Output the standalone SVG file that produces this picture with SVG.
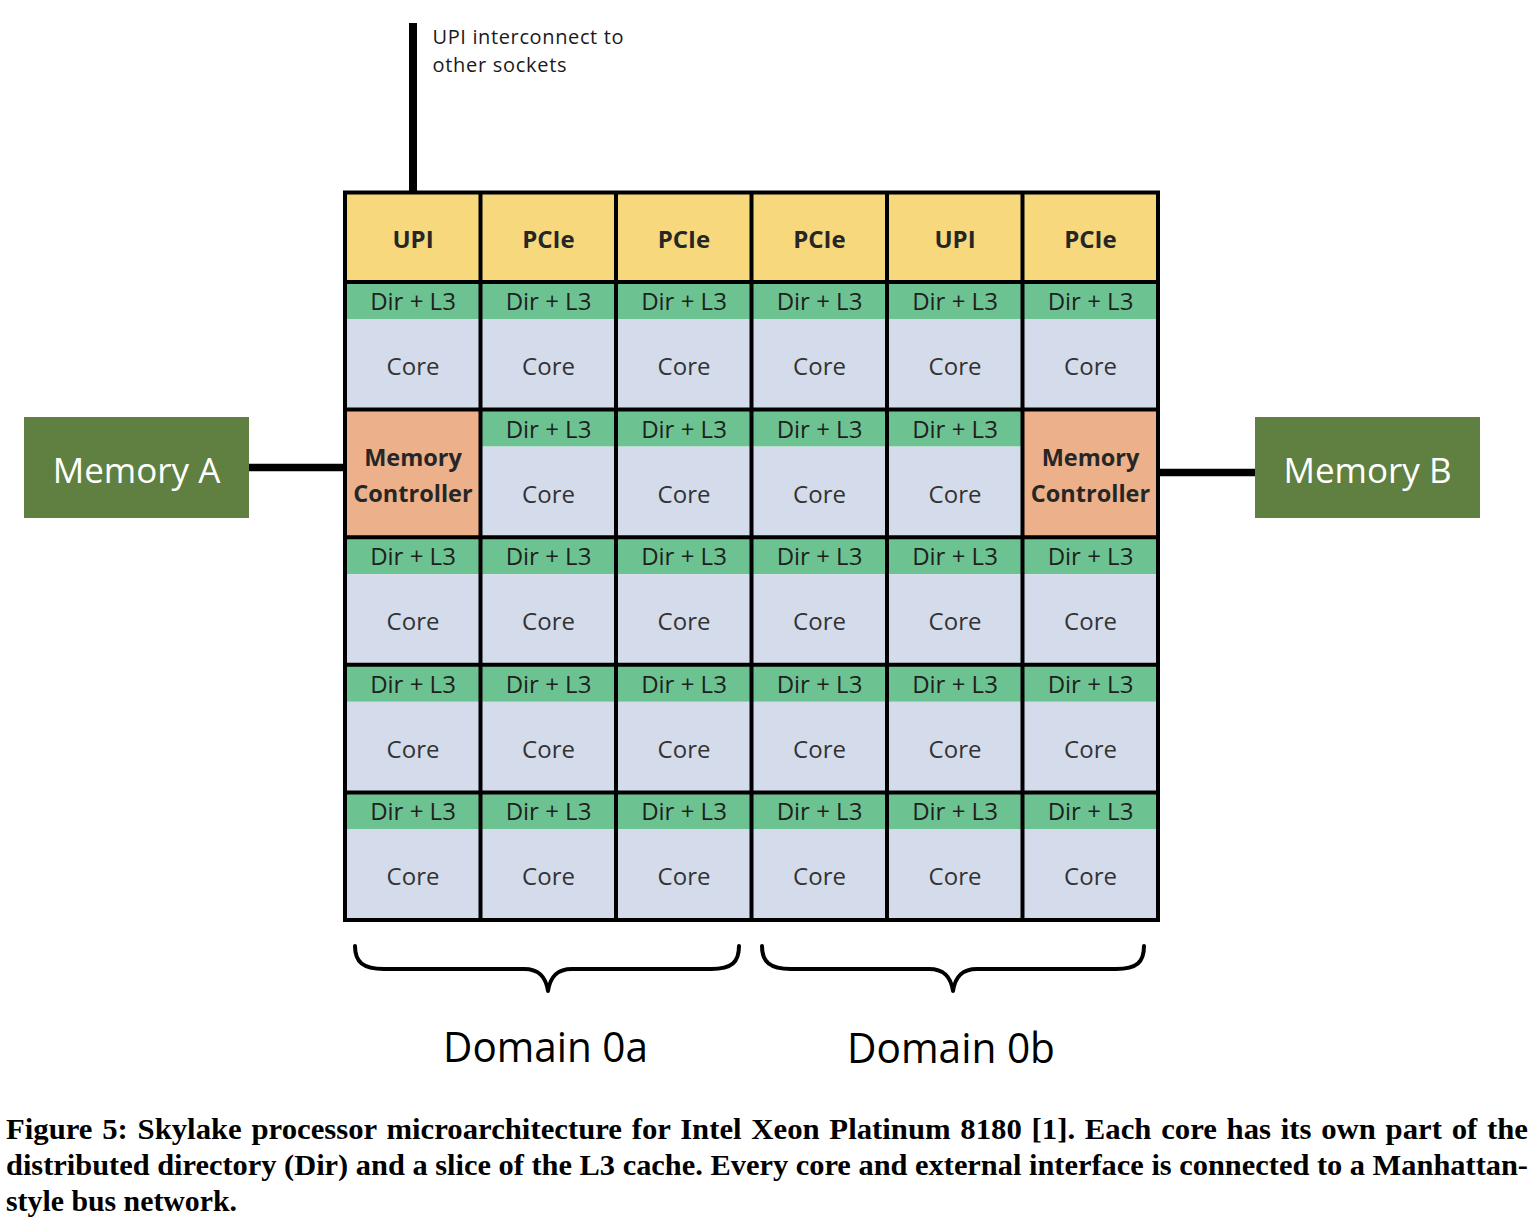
<svg xmlns="http://www.w3.org/2000/svg" width="1536" height="1228" viewBox="0 0 1536 1228">
<style>
.bg{fill:#ffffff}
.yel{fill:#F7D87C}
.grn{fill:#6CC391}
.core{fill:#D4DCEC}
.mc{fill:#ECB18A}
.mem{fill:#5F8040}
.t{font-family:"Open Sans","Liberation Sans",sans-serif;text-anchor:middle}
.dir{font-size:24px;fill:#1f1f1f}
.cr{font-size:24px;fill:#333333}
.hd{font-size:24px;font-weight:bold;fill:#262626}
.mct{font-size:23.5px;font-weight:bold;fill:#262626}
.memt{font-size:35px;fill:#ffffff}
.dom{font-size:42px;fill:#000000}
.note{font-family:"Open Sans","Liberation Sans",sans-serif;font-size:20px;fill:#1a1a1a}
.cap{font-family:"Liberation Serif","Times New Roman",serif;font-size:30px;font-weight:bold;fill:#000000}
.ln{stroke:#000000;fill:none}
</style>
<rect class="bg" x="0" y="0" width="1536" height="1228"/>

<!-- top interface row -->
<g id="top-row">
<rect class="yel" x="345" y="192.5" width="813" height="89.5"/>
<text class="t hd" x="413" y="247.5">UPI</text>
<text class="t hd" x="548.5" y="247.5">PCIe</text>
<text class="t hd" x="684" y="247.5">PCIe</text>
<text class="t hd" x="819.5" y="247.5">PCIe</text>
<text class="t hd" x="955" y="247.5">UPI</text>
<text class="t hd" x="1090.5" y="247.5">PCIe</text>
</g>

<!-- tiles: row 0 (top 282) -->
<g id="tile-r0c0"><rect class="grn" x="345" y="282" width="135.5" height="37"/><rect class="core" x="345" y="319" width="135.5" height="90.6"/><text class="t dir" x="413" y="310">Dir + L3</text><text class="t cr" x="413" y="375">Core</text></g>
<g id="tile-r0c1"><rect class="grn" x="480.5" y="282" width="135.5" height="37"/><rect class="core" x="480.5" y="319" width="135.5" height="90.6"/><text class="t dir" x="548.5" y="310">Dir + L3</text><text class="t cr" x="548.5" y="375">Core</text></g>
<g id="tile-r0c2"><rect class="grn" x="616" y="282" width="135.5" height="37"/><rect class="core" x="616" y="319" width="135.5" height="90.6"/><text class="t dir" x="684" y="310">Dir + L3</text><text class="t cr" x="684" y="375">Core</text></g>
<g id="tile-r0c3"><rect class="grn" x="751.5" y="282" width="135.5" height="37"/><rect class="core" x="751.5" y="319" width="135.5" height="90.6"/><text class="t dir" x="819.5" y="310">Dir + L3</text><text class="t cr" x="819.5" y="375">Core</text></g>
<g id="tile-r0c4"><rect class="grn" x="887" y="282" width="135.5" height="37"/><rect class="core" x="887" y="319" width="135.5" height="90.6"/><text class="t dir" x="955" y="310">Dir + L3</text><text class="t cr" x="955" y="375">Core</text></g>
<g id="tile-r0c5"><rect class="grn" x="1022.5" y="282" width="135.5" height="37"/><rect class="core" x="1022.5" y="319" width="135.5" height="90.6"/><text class="t dir" x="1090.5" y="310">Dir + L3</text><text class="t cr" x="1090.5" y="375">Core</text></g>

<!-- row 1 (top 409.6) -->
<g id="memctrl-a"><rect class="mc" x="345" y="409.6" width="135.5" height="127.6"/><text class="t mct" x="413" y="466">Memory</text><text class="t mct" x="413" y="502">Controller</text></g>
<g id="tile-r1c1"><rect class="grn" x="480.5" y="409.6" width="135.5" height="37"/><rect class="core" x="480.5" y="446.6" width="135.5" height="90.6"/><text class="t dir" x="548.5" y="438">Dir + L3</text><text class="t cr" x="548.5" y="502.6">Core</text></g>
<g id="tile-r1c2"><rect class="grn" x="616" y="409.6" width="135.5" height="37"/><rect class="core" x="616" y="446.6" width="135.5" height="90.6"/><text class="t dir" x="684" y="438">Dir + L3</text><text class="t cr" x="684" y="502.6">Core</text></g>
<g id="tile-r1c3"><rect class="grn" x="751.5" y="409.6" width="135.5" height="37"/><rect class="core" x="751.5" y="446.6" width="135.5" height="90.6"/><text class="t dir" x="819.5" y="438">Dir + L3</text><text class="t cr" x="819.5" y="502.6">Core</text></g>
<g id="tile-r1c4"><rect class="grn" x="887" y="409.6" width="135.5" height="37"/><rect class="core" x="887" y="446.6" width="135.5" height="90.6"/><text class="t dir" x="955" y="438">Dir + L3</text><text class="t cr" x="955" y="502.6">Core</text></g>
<g id="memctrl-b"><rect class="mc" x="1022.5" y="409.6" width="135.5" height="127.6"/><text class="t mct" x="1090.5" y="466">Memory</text><text class="t mct" x="1090.5" y="502">Controller</text></g>

<!-- row 2 (top 537.2) -->
<g id="tile-r2c0"><rect class="grn" x="345" y="537.2" width="135.5" height="37"/><rect class="core" x="345" y="574.2" width="135.5" height="90.6"/><text class="t dir" x="413" y="565.2">Dir + L3</text><text class="t cr" x="413" y="630.2">Core</text></g>
<g id="tile-r2c1"><rect class="grn" x="480.5" y="537.2" width="135.5" height="37"/><rect class="core" x="480.5" y="574.2" width="135.5" height="90.6"/><text class="t dir" x="548.5" y="565.2">Dir + L3</text><text class="t cr" x="548.5" y="630.2">Core</text></g>
<g id="tile-r2c2"><rect class="grn" x="616" y="537.2" width="135.5" height="37"/><rect class="core" x="616" y="574.2" width="135.5" height="90.6"/><text class="t dir" x="684" y="565.2">Dir + L3</text><text class="t cr" x="684" y="630.2">Core</text></g>
<g id="tile-r2c3"><rect class="grn" x="751.5" y="537.2" width="135.5" height="37"/><rect class="core" x="751.5" y="574.2" width="135.5" height="90.6"/><text class="t dir" x="819.5" y="565.2">Dir + L3</text><text class="t cr" x="819.5" y="630.2">Core</text></g>
<g id="tile-r2c4"><rect class="grn" x="887" y="537.2" width="135.5" height="37"/><rect class="core" x="887" y="574.2" width="135.5" height="90.6"/><text class="t dir" x="955" y="565.2">Dir + L3</text><text class="t cr" x="955" y="630.2">Core</text></g>
<g id="tile-r2c5"><rect class="grn" x="1022.5" y="537.2" width="135.5" height="37"/><rect class="core" x="1022.5" y="574.2" width="135.5" height="90.6"/><text class="t dir" x="1090.5" y="565.2">Dir + L3</text><text class="t cr" x="1090.5" y="630.2">Core</text></g>

<!-- row 3 (top 664.8) -->
<g id="tile-r3c0"><rect class="grn" x="345" y="664.8" width="135.5" height="37"/><rect class="core" x="345" y="701.8" width="135.5" height="90.6"/><text class="t dir" x="413" y="692.8">Dir + L3</text><text class="t cr" x="413" y="757.8">Core</text></g>
<g id="tile-r3c1"><rect class="grn" x="480.5" y="664.8" width="135.5" height="37"/><rect class="core" x="480.5" y="701.8" width="135.5" height="90.6"/><text class="t dir" x="548.5" y="692.8">Dir + L3</text><text class="t cr" x="548.5" y="757.8">Core</text></g>
<g id="tile-r3c2"><rect class="grn" x="616" y="664.8" width="135.5" height="37"/><rect class="core" x="616" y="701.8" width="135.5" height="90.6"/><text class="t dir" x="684" y="692.8">Dir + L3</text><text class="t cr" x="684" y="757.8">Core</text></g>
<g id="tile-r3c3"><rect class="grn" x="751.5" y="664.8" width="135.5" height="37"/><rect class="core" x="751.5" y="701.8" width="135.5" height="90.6"/><text class="t dir" x="819.5" y="692.8">Dir + L3</text><text class="t cr" x="819.5" y="757.8">Core</text></g>
<g id="tile-r3c4"><rect class="grn" x="887" y="664.8" width="135.5" height="37"/><rect class="core" x="887" y="701.8" width="135.5" height="90.6"/><text class="t dir" x="955" y="692.8">Dir + L3</text><text class="t cr" x="955" y="757.8">Core</text></g>
<g id="tile-r3c5"><rect class="grn" x="1022.5" y="664.8" width="135.5" height="37"/><rect class="core" x="1022.5" y="701.8" width="135.5" height="90.6"/><text class="t dir" x="1090.5" y="692.8">Dir + L3</text><text class="t cr" x="1090.5" y="757.8">Core</text></g>

<!-- row 4 (top 792.4) -->
<g id="tile-r4c0"><rect class="grn" x="345" y="792.4" width="135.5" height="37"/><rect class="core" x="345" y="829.4" width="135.5" height="90.6"/><text class="t dir" x="413" y="820.4">Dir + L3</text><text class="t cr" x="413" y="885.4">Core</text></g>
<g id="tile-r4c1"><rect class="grn" x="480.5" y="792.4" width="135.5" height="37"/><rect class="core" x="480.5" y="829.4" width="135.5" height="90.6"/><text class="t dir" x="548.5" y="820.4">Dir + L3</text><text class="t cr" x="548.5" y="885.4">Core</text></g>
<g id="tile-r4c2"><rect class="grn" x="616" y="792.4" width="135.5" height="37"/><rect class="core" x="616" y="829.4" width="135.5" height="90.6"/><text class="t dir" x="684" y="820.4">Dir + L3</text><text class="t cr" x="684" y="885.4">Core</text></g>
<g id="tile-r4c3"><rect class="grn" x="751.5" y="792.4" width="135.5" height="37"/><rect class="core" x="751.5" y="829.4" width="135.5" height="90.6"/><text class="t dir" x="819.5" y="820.4">Dir + L3</text><text class="t cr" x="819.5" y="885.4">Core</text></g>
<g id="tile-r4c4"><rect class="grn" x="887" y="792.4" width="135.5" height="37"/><rect class="core" x="887" y="829.4" width="135.5" height="90.6"/><text class="t dir" x="955" y="820.4">Dir + L3</text><text class="t cr" x="955" y="885.4">Core</text></g>
<g id="tile-r4c5"><rect class="grn" x="1022.5" y="792.4" width="135.5" height="37"/><rect class="core" x="1022.5" y="829.4" width="135.5" height="90.6"/><text class="t dir" x="1090.5" y="820.4">Dir + L3</text><text class="t cr" x="1090.5" y="885.4">Core</text></g>

<!-- grid lines -->
<g id="grid" class="ln" stroke-width="4">
<rect x="345" y="192.5" width="813" height="727.5"/>
<path d="M480.5,192.5V920M616,192.5V920M751.5,192.5V920M887,192.5V920M1022.5,192.5V920"/>
<path d="M345,282H1158M345,409.6H1158M345,537.2H1158M345,664.8H1158M345,792.4H1158"/>
</g>

<!-- memory nodes -->
<g id="memory-a"><rect class="mem" x="24" y="417" width="225" height="101"/><text class="t memt" x="136.5" y="483">Memory A</text></g>
<g id="memory-b"><rect class="mem" x="1255" y="417" width="225" height="101"/><text class="t memt" x="1367.5" y="483">Memory B</text></g>

<!-- connectors -->
<g id="connectors" class="ln">
<line x1="249" y1="467.5" x2="345" y2="467.5" stroke-width="7.5"/>
<line x1="1158" y1="472.5" x2="1255" y2="472.5" stroke-width="7.5"/>
<line x1="413" y1="23" x2="413" y2="192.5" stroke-width="8"/>
</g>

<g id="upi-note">
<text class="note" x="432.5" y="43.5" textLength="191" lengthAdjust="spacing">UPI interconnect to</text>
<text class="note" x="432.5" y="72" textLength="134" lengthAdjust="spacing">other sockets</text>
</g>

<!-- braces -->
<g id="braces" class="ln" stroke-width="4" stroke-linecap="round" stroke-linejoin="round">
<path d="M355,946 C355,962 363,969 384,969 L524,969 C540,969 546,978 548,991 C550,978 556,969 572,969 L711,969 C732,969 739,962 739,946"/>
<path d="M762,946 C762,962 770,969 791,969 L929,969 C945,969 951,978 953,991 C955,978 961,969 977,969 L1116,969 C1137,969 1144,962 1144,946"/>
</g>

<g id="domain-0a"><text class="t dom" x="545.5" y="1062" textLength="205" lengthAdjust="spacingAndGlyphs">Domain 0a</text></g>
<g id="domain-0b"><text class="t dom" x="951" y="1063" textLength="208" lengthAdjust="spacingAndGlyphs">Domain 0b</text></g>

<g id="caption">
<text class="cap" x="6" y="1139" word-spacing="2" textLength="1522" lengthAdjust="spacingAndGlyphs">Figure 5: Skylake processor microarchitecture for Intel Xeon Platinum 8180 [1]. Each core has its own part of the</text>
<text class="cap" x="6" y="1175" textLength="1522" lengthAdjust="spacingAndGlyphs">distributed directory (Dir) and a slice of the L3 cache. Every core and external interface is connected to a Manhattan-</text>
<text class="cap" x="6" y="1211" textLength="231" lengthAdjust="spacingAndGlyphs">style bus network.</text>
</g>
</svg>
